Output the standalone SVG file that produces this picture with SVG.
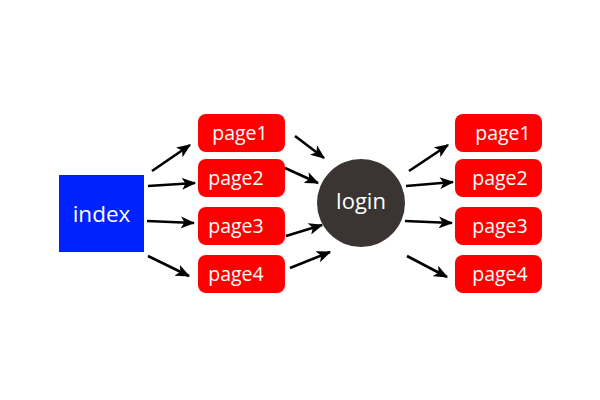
<svg xmlns="http://www.w3.org/2000/svg" width="600" height="400" viewBox="0 0 600 400">
<style>
.page rect{fill:#ff0000}
.lbl{font-family:"Open Sans","Liberation Sans",sans-serif;fill:#ffffff;text-anchor:middle}
.p{font-size:19.5px}
.conn line{stroke:#000;stroke-width:2.6;fill:none;marker-end:url(#ah)}
</style>
<defs>
<marker id="ah" viewBox="0 0 12 10" refX="11" refY="5" markerWidth="5.5" markerHeight="4.6" orient="auto" markerUnits="strokeWidth">
<path d="M0,0 L12,5 L0,10 L3,5 Z" fill="#000"/>
</marker>
</defs>
<rect width="600" height="400" fill="#fff"/>
<g id="index">
<rect x="59" y="175" width="85" height="77" fill="#0022ff"/>
<text class="lbl" x="101.5" y="221.5" font-size="22.5">index</text>
</g>
<g id="login">
<circle cx="361" cy="203" r="44" fill="#3a3533"/>
<text class="lbl" x="361" y="209" font-size="22">login</text>
</g>
<g id="lp1" class="page"><rect x="198" y="114" width="87" height="38" rx="8"/><text class="lbl p" x="240" y="139.5">page1</text></g>
<g id="lp2" class="page"><rect x="198" y="159" width="87" height="38" rx="8"/><text class="lbl p" x="236" y="184.5">page2</text></g>
<g id="lp3" class="page"><rect x="198" y="207" width="87" height="38" rx="8"/><text class="lbl p" x="236" y="232.5">page3</text></g>
<g id="lp4" class="page"><rect x="198" y="255" width="87" height="38" rx="8"/><text class="lbl p" x="236" y="280.5">page4</text></g>
<g id="rp1" class="page"><rect x="455" y="114" width="87" height="38" rx="8"/><text class="lbl p" x="503" y="139.5">page1</text></g>
<g id="rp2" class="page"><rect x="455" y="159" width="87" height="38" rx="8"/><text class="lbl p" x="500" y="184.5">page2</text></g>
<g id="rp3" class="page"><rect x="455" y="207" width="87" height="38" rx="8"/><text class="lbl p" x="500" y="232.5">page3</text></g>
<g id="rp4" class="page"><rect x="455" y="255" width="87" height="38" rx="8"/><text class="lbl p" x="500" y="280.5">page4</text></g>
<g id="connectors" class="conn">
<line x1="152" y1="171" x2="190" y2="145"/>
<line x1="148" y1="186" x2="195" y2="183"/>
<line x1="147" y1="221" x2="194" y2="223"/>
<line x1="148" y1="256" x2="189" y2="276"/>
<line x1="295" y1="136" x2="324" y2="158"/>
<line x1="285" y1="168" x2="318" y2="183"/>
<line x1="286" y1="236" x2="322" y2="225"/>
<line x1="290" y1="268" x2="330" y2="252"/>
<line x1="409" y1="171" x2="448" y2="145"/>
<line x1="406" y1="186" x2="453" y2="182"/>
<line x1="405" y1="221" x2="452" y2="223"/>
<line x1="407" y1="256" x2="447" y2="277"/>
</g>
</svg>
